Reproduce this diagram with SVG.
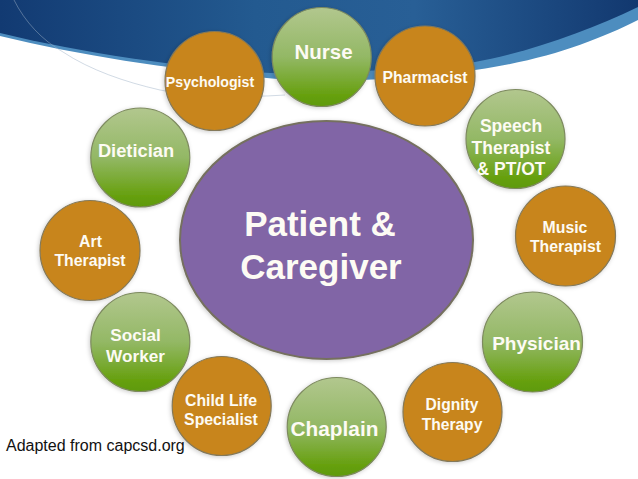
<svg xmlns="http://www.w3.org/2000/svg" width="638" height="479" viewBox="0 0 638 479">
<style>
text{font-family:"Liberation Sans",Arial,sans-serif;font-weight:bold;fill:#fdfbf4;text-anchor:middle}
.g{fill:url(#green);stroke:#7d8a5f;stroke-width:1.2;filter:url(#sh)}
.o{fill:#c8851a;stroke:#84795a;stroke-width:1.2;filter:url(#sh)}
</style>
<defs>
<linearGradient id="green" x1="0" y1="0" x2="0" y2="1">
<stop offset="0" stop-color="#b2c78e"/><stop offset="0.5" stop-color="#93b865"/><stop offset="0.9" stop-color="#659f0c"/><stop offset="1" stop-color="#5f9a06"/>
</linearGradient>
<linearGradient id="blue" x1="0" y1="0" x2="1" y2="0">
<stop offset="0" stop-color="#123a72"/><stop offset="0.4" stop-color="#235a90"/><stop offset="0.65" stop-color="#285f96"/><stop offset="1" stop-color="#12386f"/>
</linearGradient>
<filter id="sh" x="-15%" y="-15%" width="130%" height="130%">
<feDropShadow dx="-1" dy="1" stdDeviation="2" flood-color="#000" flood-opacity="0.2"/>
</filter>
</defs>
<rect width="638" height="479" fill="#fff"/>
<g id="banner">
<path d="M0 0H638V20C590 44 530 66 440 74C390 80 340 82 290 80C190 72 90 58 0 36Z" fill="#4d8dbf"/>
<path d="M0 0H638V7C590 30 530 52 475 62C420 70 350 72 270 73C190 68 90 55 0 33Z" fill="url(#blue)"/>
<path d="M14 0C25 22 42 40 63 52C90 70 125 82 160 90C195 97 240 98 285 95" fill="none" stroke="#9fb0c6" stroke-opacity="0.6" stroke-width="0.8"/>
</g>
<g id="center"><ellipse cx="326.5" cy="240" rx="146.5" ry="119" fill="#8165a6" stroke="#75705f" stroke-width="2" filter="url(#sh)"/>
<text x="320" y="236" font-size="35">Patient &amp;</text><text x="321" y="279" font-size="35">Caregiver</text></g>
<g id="nurse"><circle class="g" cx="321.7" cy="57" r="49.5"/><text x="323.5" y="59" font-size="20.5">Nurse</text></g>
<g id="psychologist"><circle class="o" cx="214.5" cy="81" r="49.5"/><text x="210" y="87" font-size="14.2">Psychologist</text></g>
<g id="pharmacist"><circle class="o" cx="425" cy="76" r="50"/><text x="425" y="83" font-size="15.8">Pharmacist</text></g>
<g id="speech"><circle class="g" cx="515.5" cy="139" r="49.5"/><text x="511" y="132" font-size="17.5">Speech</text><text x="511" y="154" font-size="17.5">Therapist</text><text x="511" y="175" font-size="17.5">&amp; PT/OT</text></g>
<g id="music"><circle class="o" cx="565.5" cy="236" r="50"/><text x="565" y="233" font-size="15.8">Music</text><text x="565.5" y="252" font-size="15.8">Therapist</text></g>
<g id="physician"><circle class="g" cx="532.5" cy="342" r="50"/><text x="536.5" y="350" font-size="19">Physician</text></g>
<g id="dignity"><circle class="o" cx="452.5" cy="412" r="49.5"/><text x="452" y="410" font-size="15.6">Dignity</text><text x="452" y="430" font-size="15.6">Therapy</text></g>
<g id="chaplain"><circle class="g" cx="336.7" cy="427" r="49.5"/><text x="334.5" y="436" font-size="20.8">Chaplain</text></g>
<g id="child-life"><circle class="o" cx="221.7" cy="406" r="49.5"/><text x="221" y="406" font-size="15.8">Child Life</text><text x="221" y="425" font-size="15.8">Specialist</text></g>
<g id="social"><circle class="g" cx="140.3" cy="342" r="49.5"/><text x="135.5" y="341" font-size="17.2">Social</text><text x="135.5" y="362" font-size="17.2">Worker</text></g>
<g id="art"><circle class="o" cx="90" cy="250.5" r="50"/><text x="90.5" y="247" font-size="15.8">Art</text><text x="90" y="266" font-size="15.8">Therapist</text></g>
<g id="dietician"><circle class="g" cx="140.3" cy="157.5" r="49.5"/><text x="136" y="157" font-size="18.3">Dietician</text></g>
<text id="credit" x="6" y="451" font-size="16" style="fill:#111;font-weight:normal;text-anchor:start">Adapted from capcsd.org</text>
</svg>
